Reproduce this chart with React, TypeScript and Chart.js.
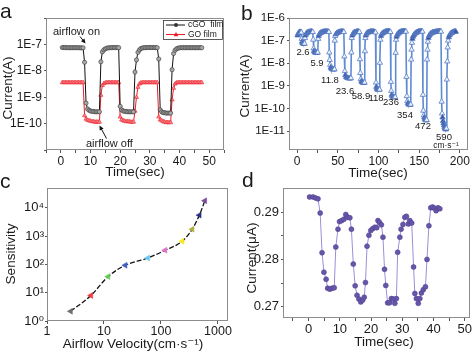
import React, { useEffect, useRef } from "react";
import { Chart, registerables } from "chart.js";
Chart.register(...registerables);

const W = 474;
const H = 353;
const FONT = '"Liberation Sans", Arial, "DejaVu Sans", sans-serif';
const INK = "#1a1a1a";
const FRAME = "#8c8c8c";

// ---------------- Panel a : airflow on/off, cGO vs GO film ----------------
const timeA = [0.5,1,1.5,2,2.5,3,3.5,4,4.5,5,5.5,6,6.5,7,7.5,8,8.5,9,9.5,10,10.5,11,11.5,12,12.5,13,13.5,14,14.5,15,15.5,16,16.5,17,17.5,18,18.5,19,19.5,20,20.5,21,21.5,22,22.5,23,23.5,24,24.5,25,25.5,26,26.5,27,27.5,28,28.5,29,29.5,30,30.5,31,31.5,32,32.5,33,33.5,34,34.5,35,35.5,36,36.5,37,37.5,38,38.5,39,39.5,40,40.5,41,41.5,42,42.5,43,43.5,44,44.5,45,45.5,46,46.5,47,47.5];
const cgoA = [
  7.6e-8,7.6e-8,7.6e-8,7.5e-8,7.5e-8,7.5e-8,7.5e-8,7.5e-8,7.5e-8,7.5e-8,7.5e-8,7.5e-8,7.4e-8,7.4e-8,7.4e-8,
  2.1e-8,6e-10,3.6e-10,3.2e-10,3.0e-10,2.9e-10,2.9e-10,2.8e-10,2.8e-10,2.8e-10,2.8e-10,
  2.2e-8,5.2e-8,6.2e-8,6.8e-8,7.2e-8,7.4e-8,
  7.5e-8,7.5e-8,7.6e-8,7.6e-8,7.6e-8,7.6e-8,7.5e-8,
  4.5e-10,3.3e-10,3.0e-10,2.9e-10,2.9e-10,2.8e-10,2.8e-10,2.8e-10,2.8e-10,2.8e-10,
  9e-9,2.6e-8,5e-8,6.2e-8,7e-8,7.3e-8,
  7.5e-8,7.5e-8,7.6e-8,7.6e-8,7.6e-8,7.6e-8,7.6e-8,7.6e-8,7.5e-8,7.5e-8,
  2.8e-8,3.3e-10,2.8e-10,2.6e-10,2.6e-10,2.5e-10,2.5e-10,2.5e-10,2.5e-10,
  1.1e-8,4.5e-8,6e-8,6.8e-8,7.2e-8,
  7.4e-8,7.5e-8,7.5e-8,7.5e-8,7.5e-8,7.5e-8,7.5e-8,7.5e-8,7.5e-8,7.5e-8,7.5e-8,7.5e-8,7.5e-8,7.5e-8,7.5e-8,7.5e-8,
];
const goA = [
  3.6e-9,3.6e-9,3.6e-9,3.6e-9,3.6e-9,3.6e-9,3.6e-9,3.6e-9,3.6e-9,3.6e-9,3.6e-9,3.6e-9,3.6e-9,3.6e-9,3.6e-9,
  2.0e-10,1.5e-10,1.35e-10,1.3e-10,1.25e-10,1.2e-10,1.2e-10,1.15e-10,1.15e-10,1.15e-10,1.15e-10,
  1.2e-9,2.8e-9,3.3e-9,3.5e-9,3.6e-9,3.6e-9,
  3.6e-9,3.6e-9,3.6e-9,3.6e-9,3.6e-9,3.6e-9,3.6e-9,
  1.8e-10,1.4e-10,1.3e-10,1.25e-10,1.2e-10,1.2e-10,1.2e-10,1.15e-10,1.15e-10,1.15e-10,
  3e-10,1.0e-9,2.4e-9,3.2e-9,3.5e-9,3.6e-9,
  3.6e-9,3.6e-9,3.6e-9,3.6e-9,3.6e-9,3.6e-9,3.6e-9,3.6e-9,3.6e-9,3.6e-9,
  1.8e-10,1.4e-10,1.3e-10,1.2e-10,1.15e-10,1.1e-10,1.1e-10,1.1e-10,1.1e-10,
  8e-10,2.2e-9,3.2e-9,3.5e-9,3.6e-9,
  3.6e-9,3.6e-9,3.6e-9,3.6e-9,3.6e-9,3.6e-9,3.6e-9,3.6e-9,3.6e-9,3.6e-9,3.6e-9,3.6e-9,3.6e-9,3.6e-9,3.6e-9,3.6e-9,
];
const seriesNamesA = ["cGO  film", "GO film"];
const xTicksA = [-5,0,5,10,15,20,25,30,35,40,45,50,55];
const xLabelsA = ["","0","","10","","20","","30","","40","","50",""];
const yTicksA = [1e-11,1e-10,1e-9,1e-8,1e-7,1e-6];
const yLabelsA = ["","1E-10","1E-9","1E-8","1E-7",""];

// ---------------- Panel b : pulses at increasing airflow ----------------
const pulseB: [number, number][] = [
  [0.5,1.7e-7],[1.2,2.0e-7],[1.9,2.2e-7],[2.6,2.3e-7],[3.3,2.4e-7],[4.0,2.4e-7],[4.7,2.4e-7],[5.2,2.3e-7],
  [5.6,1.2e-7],[6.1,9e-8],[6.6,8e-8],[7.1,7.6e-8],[7.6,7.4e-8],[8.1,7.3e-8],[8.6,7.3e-8],[9.1,7.4e-8],[9.6,1.3e-7],
  [10.2,1.7e-7],[11,2.0e-7],[12,2.2e-7],[13,2.3e-7],[14,2.4e-7],[15,2.4e-7],[16,2.5e-7],[17,2.5e-7],[18,2.5e-7],[19.2,2.4e-7],
  [19.8,1.1e-7],[20.3,4.5e-8],[20.8,3.5e-8],[21.5,3.1e-8],[22.2,3.0e-8],[23,2.9e-8],[23.8,2.9e-8],[24.6,2.9e-8],[25.3,3.0e-8],[25.9,1.2e-7],
  [26.4,1.6e-7],[27.2,1.9e-7],[28,2.1e-7],[29,2.2e-7],[30,2.3e-7],[31,2.4e-7],[32,2.4e-7],[33,2.5e-7],[34,2.5e-7],[35,2.5e-7],[36,2.5e-7],[37,2.5e-7],[38,2.5e-7],[39,2.4e-7],
  [39.5,3e-8],[40.0,1.4e-8],[40.6,8.5e-9],[41.3,6.5e-9],[42.1,5.8e-9],[42.9,5.5e-9],[43.7,5.4e-9],[44.5,5.3e-9],[45.3,5.3e-9],[45.9,5.4e-9],[46.3,1e-7],
  [46.8,1.6e-7],[47.5,1.9e-7],[48.5,2.1e-7],[49.5,2.2e-7],[50.5,2.3e-7],[51.5,2.4e-7],[52.5,2.4e-7],[53.5,2.5e-7],[54.5,2.5e-7],[55.5,2.5e-7],[56.5,2.5e-7],[57.4,2.4e-7],
  [58.0,2e-8],[58.6,4.5e-9],[59.3,3e-9],[60.2,2.5e-9],[61.2,2.3e-9],[62.2,2.2e-9],[63.2,2.2e-9],[64.2,2.1e-9],[65.2,2.1e-9],[66.1,2.2e-9],[66.6,3e-8],[67.1,1.3e-7],
  [67.8,1.7e-7],[68.6,2.0e-7],[69.5,2.2e-7],[70.5,2.3e-7],[71.5,2.4e-7],[72.5,2.4e-7],[73.5,2.5e-7],[74.5,2.5e-7],[75.5,2.5e-7],[76.6,2.4e-7],
  [77.2,1.5e-8],[77.7,3.7e-9],[78.3,2e-9],[79.0,1.6e-9],[79.8,1.45e-9],[80.6,1.4e-9],[81.4,1.35e-9],[82.2,1.35e-9],[82.9,1.4e-9],[83.3,3.4e-8],[83.8,1.3e-7],
  [84.3,1.7e-7],[85.2,2.0e-7],[86.2,2.2e-7],[87.2,2.3e-7],[88.2,2.4e-7],[89.2,2.4e-7],[90.2,2.5e-7],[91.2,2.5e-7],[92.2,2.5e-7],[93.2,2.5e-7],[94.2,2.5e-7],[95.4,2.4e-7],[96.3,2.3e-7],
  [96.9,1.4e-9],[97.4,9e-10],[98.0,7.5e-10],[98.7,7e-10],[99.4,6.8e-10],[100.1,6.7e-10],[100.8,6.7e-10],[101.4,6.8e-10],[101.8,1.05e-8],[102.3,1.1e-7],
  [103,1.6e-7],[103.8,1.9e-7],[104.8,2.1e-7],[105.8,2.2e-7],[106.8,2.3e-7],[107.8,2.4e-7],[108.8,2.5e-7],[109.8,2.5e-7],[110.8,2.6e-7],[111.8,2.6e-7],[112.8,2.6e-7],[113.8,2.5e-7],[114.6,2.4e-7],
  [115.2,1.5e-9],[115.7,6e-10],[116.3,4e-10],[117.0,3.5e-10],[117.7,3.3e-10],[118.4,3.2e-10],[119.1,3.1e-10],[119.8,3.1e-10],[120.5,3.2e-10],[121.1,2.9e-8],[121.6,1.1e-7],
  [122.2,1.5e-7],[122.9,1.8e-7],[123.8,2.0e-7],[124.8,2.2e-7],[125.8,2.3e-7],[126.8,2.4e-7],[127.8,2.5e-7],[128.8,2.5e-7],[129.8,2.6e-7],[130.8,2.6e-7],[131.8,2.6e-7],[132.8,2.6e-7],[133.7,2.5e-7],
  [134.3,2.5e-9],[134.8,3.5e-10],[135.4,2.1e-10],[136.1,1.7e-10],[136.8,1.55e-10],[137.5,1.5e-10],[138.2,1.45e-10],[138.9,1.45e-10],[139.6,1.5e-10],[140.1,1.45e-8],[140.6,4e-8],[141.1,8e-8],[141.7,1.2e-7],[142.4,1.5e-7],
  [143.2,1.7e-7],[144.1,1.9e-7],[145.1,2.1e-7],[146.1,2.2e-7],[147.1,2.3e-7],[148.1,2.4e-7],[149.1,2.5e-7],[150.1,2.5e-7],[151.1,2.6e-7],[152.1,2.6e-7],[153.1,2.6e-7],[154.0,2.5e-7],
  [154.6,4e-10],[155.1,8e-11],[155.7,5e-11],[156.3,4e-11],[156.9,3.5e-11],[157.5,3.2e-11],[158.1,3e-11],[158.7,3e-11],[159.2,3.1e-11],[159.7,1.45e-8],[160.2,4e-8],[160.7,9e-8],[161.3,1.3e-7],[162.0,1.6e-7],
  [162.8,1.8e-7],[163.8,2.0e-7],[164.8,2.1e-7],[165.8,2.2e-7],[166.8,2.3e-7],[167.8,2.3e-7],[168.8,2.4e-7],[169.8,2.4e-7],[170.8,2.5e-7],[171.8,2.5e-7],[172.8,2.5e-7],[173.8,2.6e-7],[174.8,2.6e-7],[175.8,2.6e-7],[176.8,2.5e-7],
  [177.6,2e-10],[178.1,6e-11],[178.7,4e-11],[179.3,2.8e-11],[179.9,2.2e-11],[180.5,1.8e-11],[181.1,1.5e-11],[181.7,1.3e-11],[182.3,1.2e-11],[182.9,1.2e-11],[183.5,1.3e-11],[184.0,1.9e-9],[184.5,1.2e-8],[185.0,5e-8],[185.6,1e-7],[186.3,1.4e-7],
  [187.1,1.7e-7],[188.0,1.9e-7],[189.0,2.1e-7],[190.0,2.2e-7],[191.0,2.3e-7],[192.0,2.4e-7],[193.0,2.5e-7],[194.0,2.5e-7],[195.0,2.5e-7],
];
const flowLabelsB = ["2.6","5.9","11.8","23.6","58.9","118","236","354","472","590"];
const xTicksB = [0,25,50,75,100,125,150,175,200];
const xLabelsB = ["0","","50","","100","","150","","200"];
const yTicksB = [1e-11,1e-10,1e-9,1e-8,1e-7,1e-6];
const yLabelsB = ["1E-11","1E-10","1E-9","1E-8","1E-7","1E-6"];

// ---------------- Panel c : sensitivity vs airflow velocity ----------------
const velocityC = [2.6, 5.9, 11.8, 23.6, 58.9, 118, 236, 354, 472, 590];
const sensitivityC = [2.2, 8.0, 37, 93, 168, 316, 660, 1750, 5500, 17800];
const markerColorsC = ["#6e6e6e","#f0393c","#66cc55","#3f5fc8","#66c8ee","#e070c8","#f6e81a","#b0b040","#283080","#7a4aa0"];
const xTicksC = [1,10,100,1000];
const xLabelsC = ["1","10","100","1000"];
const yTicksC = [1,10,100,1000,10000];
const yLabelsC = ["10\u2070","10\u00B9","10\u00B2","10\u00B3","10\u2074"];

// ---------------- Panel d : current vs time ----------------
const timeD = [0.3,1.4,2.2,3.0,3.7,4.3,4.9,5.6,6.1,6.8,7.5,8.2,8.7,9.4,9.9,10.6,11.3,11.9,12.5,13.2,13.7,14.3,14.9,15.5,16.1,16.7,17.3,17.8,18.2,18.7,19.3,19.9,20.5,21.2,21.8,22.2,22.7,23.3,23.8,24.3,24.7,25.3,25.9,26.5,27.1,27.6,28.1,28.5,29.2,29.6,30.2,30.8,31.3,31.9,32.4,33.0,33.6,34.0,34.5,35.1,35.6,36.1,36.7,37.4,37.9,38.5,39.1,39.7,40.3,40.8,41.4,42.0];
const currentD = [0.2932,0.2932,0.2930,0.2928,0.2898,0.2814,0.2773,0.2758,0.2739,0.2737,0.2739,0.2740,0.2826,0.2864,0.2880,0.2882,0.2885,0.2895,0.2889,0.2888,0.2864,0.2790,0.2744,0.2724,0.2716,0.2710,0.2714,0.2720,0.2751,0.2828,0.2851,0.2861,0.2865,0.2868,0.2867,0.2882,0.2878,0.2873,0.2847,0.2779,0.2745,0.2708,0.2708,0.2717,0.2716,0.2707,0.2717,0.2815,0.2847,0.2864,0.2874,0.2889,0.2891,0.2875,0.2882,0.2877,0.2784,0.2728,0.2717,0.2707,0.2717,0.2729,0.2736,0.2742,0.2800,0.2871,0.2909,0.2911,0.2908,0.2903,0.2909,0.2907];
const xTicksD = [-5,0,5,10,15,20,25,30,35,40,45,50];
const xLabelsD = ["","0","","10","","20","","30","","40","","50"];
const yTicksD = [0.27,0.275,0.28,0.285,0.29];
const yLabelsD = ["0.27","","0.28","","0.29"];

// ---------------- helpers ----------------
type Area = { l: number; t: number; r: number; b: number };
type AxisOpt = { type: string; min: number; max: number; ticks: number[]; labels: string[]; font?: number; tickLen?: number; pad?: number };

function axis(o: AxisOpt, horizontal: boolean, size: number) {
  return {
    type: o.type,
    min: o.min,
    max: o.max,
    bounds: "data",
    position: horizontal ? "bottom" : "left",
    afterBuildTicks: (s: any) => { s.ticks = o.ticks.map((v) => ({ value: v })); },
    afterFit: (s: any) => {
      if (horizontal) s.height = size; else s.width = size;
      s.paddingLeft = 0; s.paddingRight = 0; s.paddingTop = 0; s.paddingBottom = 0;
    },
    ticks: {
      autoSkip: false, maxRotation: 0, minRotation: 0,
      padding: o.pad ?? 2, color: INK,
      font: { family: FONT, size: o.font ?? 12 },
      callback: (_v: any, i: number) => o.labels[i] ?? "",
    },
    grid: { display: true, drawOnChartArea: false, drawTicks: true, tickLength: o.tickLen ?? 3, color: "#555", lineWidth: 1 },
    border: { display: false },
  };
}

function txt(ctx: CanvasRenderingContext2D, s: string, x: number, y: number, size: number,
  align: CanvasTextAlign = "left", base: CanvasTextBaseline = "alphabetic", rot = false, color = INK) {
  ctx.save();
  ctx.font = `${size}px ${FONT}`;
  ctx.fillStyle = color; ctx.textAlign = align; ctx.textBaseline = base;
  if (rot) { ctx.translate(x, y); ctx.rotate(-Math.PI / 2); ctx.fillText(s, 0, 0); }
  else ctx.fillText(s, x, y);
  ctx.restore();
}

function arrow(ctx: CanvasRenderingContext2D, x1: number, y1: number, x2: number, y2: number) {
  const a = Math.atan2(y2 - y1, x2 - x1), L = 4.5, w = 2.2;
  ctx.save();
  ctx.strokeStyle = "#111"; ctx.fillStyle = "#111"; ctx.lineWidth = 1;
  ctx.beginPath(); ctx.moveTo(x1, y1); ctx.lineTo(x2 - L * 0.8 * Math.cos(a), y2 - L * 0.8 * Math.sin(a)); ctx.stroke();
  ctx.beginPath(); ctx.moveTo(x2, y2);
  ctx.lineTo(x2 - L * Math.cos(a) + w * Math.sin(a), y2 - L * Math.sin(a) - w * Math.cos(a));
  ctx.lineTo(x2 - L * Math.cos(a) - w * Math.sin(a), y2 - L * Math.sin(a) + w * Math.cos(a));
  ctx.closePath(); ctx.fill();
  ctx.restore();
}

// dark fill where neighbouring samples sit at (nearly) the same level, open markers on transitions
function settledFill(c: any) {
  const i = c.dataIndex;
  const d = pulseB;
  if (i == null || !d[i]) return "#ffffff";
  const v = Math.log10(d[i][1]);
  const p = i > 0 ? Math.abs(Math.log10(d[i - 1][1]) - v) : 0;
  const n = i < d.length - 1 ? Math.abs(Math.log10(d[i + 1][1]) - v) : 0;
  return p < 0.2 && n < 0.2 ? "#34509c" : "#eef3fb";
}

function build(canvas: HTMLCanvasElement, area: Area, datasets: any[], x: AxisOpt, y: AxisOpt,
  draw: (ctx: CanvasRenderingContext2D, chart: any) => void) {
  const xH = 18;
  return new Chart(canvas, {
    type: "line",
    data: { datasets },
    options: {
      responsive: false, animation: false, devicePixelRatio: 1, events: [],
      layout: { padding: { left: 0, top: area.t, right: W - area.r, bottom: H - area.b - xH } },
      plugins: { legend: { display: false }, tooltip: { enabled: false }, title: { display: false } },
      scales: { x: axis(x, true, xH), y: axis(y, false, area.l) } as any,
    },
    plugins: [{
      id: "deco",
      afterDatasetsDraw(chart: any) {
        const { left, top, width, height } = chart.chartArea;
        const ctx = chart.ctx;
        ctx.save(); ctx.strokeStyle = FRAME; ctx.lineWidth = 1;
        ctx.strokeRect(Math.round(left) + 0.5, Math.round(top) + 0.5, Math.round(width) - 1, Math.round(height) - 1);
        ctx.restore();
      },
      afterDraw(chart: any) { draw(chart.ctx, chart); },
    }],
  } as any);
}

export default function App() {
  const ra = useRef<HTMLCanvasElement>(null);
  const rb = useRef<HTMLCanvasElement>(null);
  const rc = useRef<HTMLCanvasElement>(null);
  const rd = useRef<HTMLCanvasElement>(null);

  useEffect(() => {
    const charts: Chart[] = [];

    // ---- a ----
    charts.push(build(ra.current!, { l: 46, t: 18, r: 224, b: 150 }, [
      {
        label: seriesNamesA[0], data: timeA.map((t, i) => ({ x: t, y: cgoA[i] })),
        borderColor: "#111", borderWidth: 1, pointStyle: "circle", pointRadius: 2.1,
        pointBackgroundColor: "#a8a8a8", pointBorderColor: "#333", pointBorderWidth: 0.6,
      },
      {
        label: seriesNamesA[1], data: timeA.map((t, i) => ({ x: t, y: goA[i] })),
        borderColor: "#ee1c25", borderWidth: 1, pointStyle: "triangle", pointRadius: 2.4,
        pointBackgroundColor: "#ff8a90", pointBorderColor: "#e8202a", pointBorderWidth: 0.6,
      },
    ],
      { type: "linear", min: -5, max: 55, ticks: xTicksA, labels: xLabelsA, font: 12, pad: 1 },
      { type: "logarithmic", min: 1e-11, max: 1e-6, ticks: yTicksA, labels: yLabelsA, font: 12, tickLen: 2, pad: 2 },
      (ctx) => {
        txt(ctx, "a", 0, 18, 21);
        txt(ctx, "Current(A)", 8, 88, 13.5, "center", "middle", true);
        txt(ctx, "Time(sec)", 135, 172, 13.5, "center", "middle");
        txt(ctx, "airflow on", 53, 34.5, 11);
        arrow(ctx, 80, 36.5, 85.5, 43.5);
        txt(ctx, "airflow off", 86, 147, 11);
        arrow(ctx, 106.5, 138.5, 99.5, 125.5);
        // legend
        ctx.save();
        ctx.strokeStyle = "#333"; ctx.lineWidth = 0.8;
        ctx.strokeRect(163.5, 20.5, 59, 19);
        ctx.lineWidth = 1;
        ctx.strokeStyle = "#111"; ctx.beginPath(); ctx.moveTo(166, 25); ctx.lineTo(185, 25); ctx.stroke();
        ctx.fillStyle = "#333"; ctx.beginPath(); ctx.arc(176, 25, 2, 0, Math.PI * 2); ctx.fill();
        ctx.strokeStyle = "#ee1c25"; ctx.beginPath(); ctx.moveTo(166, 34.5); ctx.lineTo(185, 34.5); ctx.stroke();
        ctx.fillStyle = "#ee1c25"; ctx.beginPath(); ctx.moveTo(176, 32); ctx.lineTo(178.4, 36.2); ctx.lineTo(173.6, 36.2); ctx.closePath(); ctx.fill();
        ctx.restore();
        txt(ctx, seriesNamesA[0], 188, 25, 8.5, "left", "middle");
        txt(ctx, seriesNamesA[1], 188, 34.5, 8.5, "left", "middle");
      }));

    // ---- b ----
    charts.push(build(rb.current!, { l: 289, t: 18, r: 468, b: 150 }, [
      {
        data: pulseB.map(([t, v]) => ({ x: t, y: v })),
        borderColor: "#5e8bd3", borderWidth: 1.6, pointStyle: "triangle", pointRadius: 3.1,
        pointBackgroundColor: settledFill,
        pointBorderColor: "#5a7fc6", pointBorderWidth: 0.8,
      },
    ],
      { type: "linear", min: -10, max: 210, ticks: xTicksB, labels: xLabelsB, font: 12, pad: 1 },
      { type: "logarithmic", min: 1.45e-12, max: 1e-6, ticks: yTicksB, labels: yLabelsB, font: 11.5, tickLen: 2, pad: 2 },
      (ctx) => {
        txt(ctx, "b", 241, 20, 21);
        txt(ctx, "Current(A)", 245, 86, 13.5, "center", "middle", true);
        txt(ctx, "Time(sec)", 378, 173, 13.5, "center", "middle");
        const pos = [[303, 52], [317, 63], [330, 80], [345, 91], [361, 96], [376, 98], [391, 102], [405, 115], [423, 126], [444, 137]];
        flowLabelsB.forEach((s, i) => txt(ctx, s, pos[i][0], pos[i][1], 9.5, "center", "middle"));
        txt(ctx, "cm\u00B7s\u207B\u00B9", 446, 146, 8.5, "center", "middle");
      }));

    // ---- c ----
    charts.push(build(rc.current!, { l: 47, t: 188, r: 228, b: 321 }, [
      {
        data: velocityC.map((v, i) => ({ x: v, y: sensitivityC[i] })),
        borderColor: "#111", borderWidth: 1.3, borderDash: [5, 2], cubicInterpolationMode: "monotone",
        pointStyle: "triangle", pointRotation: 270, pointRadius: 3.4,
        pointBackgroundColor: markerColorsC, pointBorderColor: markerColorsC, pointBorderWidth: 0.5,
      },
    ],
      { type: "logarithmic", min: 1, max: 1500, ticks: xTicksC, labels: xLabelsC, font: 12.5, pad: 0 },
      { type: "logarithmic", min: 1, max: 5e4, ticks: yTicksC, labels: yLabelsC, font: 13, tickLen: 2, pad: 1 },
      (ctx) => {
        txt(ctx, "c", 0, 188, 21);
        txt(ctx, "Sensitivity", 11, 254, 13.5, "center", "middle", true);
        txt(ctx, "Airflow Velocity(cm\u00B7s\u207B\u00B9)", 133, 344, 13.5, "center", "middle");
      }));

    // ---- d ----
    charts.push(build(rd.current!, { l: 283, t: 188, r: 472, b: 318 }, [
      {
        data: timeD.map((t, i) => ({ x: t, y: currentD[i] })),
        borderColor: "#9b8fd8", borderWidth: 1, pointStyle: "circle", pointRadius: 2.5,
        pointBackgroundColor: "#6655a8", pointBorderColor: "#4e3f8e", pointBorderWidth: 0.5,
      },
    ],
      { type: "linear", min: -8.2, max: 51.5, ticks: xTicksD, labels: xLabelsD, font: 13, pad: 1 },
      { type: "linear", min: 0.2676, max: 0.2951, ticks: yTicksD, labels: yLabelsD, font: 13, tickLen: 2, pad: 2 },
      (ctx) => {
        txt(ctx, "d", 242, 187, 21);
        txt(ctx, "Current(\u03BCA)", 252, 258, 13.5, "center", "middle", true);
        txt(ctx, "Time(sec)", 384, 342, 13.5, "center", "middle");
      }));

    return () => charts.forEach((c) => c.destroy());
  }, []);

  const cs: React.CSSProperties = { position: "absolute", left: 0, top: 0, width: W, height: H };
  return (
    <div style={{ position: "fixed", left: 0, top: 0, width: W, height: H, background: "#fff", overflow: "hidden" }}>
      <canvas ref={ra} width={W} height={H} style={cs} />
      <canvas ref={rb} width={W} height={H} style={cs} />
      <canvas ref={rc} width={W} height={H} style={cs} />
      <canvas ref={rd} width={W} height={H} style={cs} />
    </div>
  );
}
